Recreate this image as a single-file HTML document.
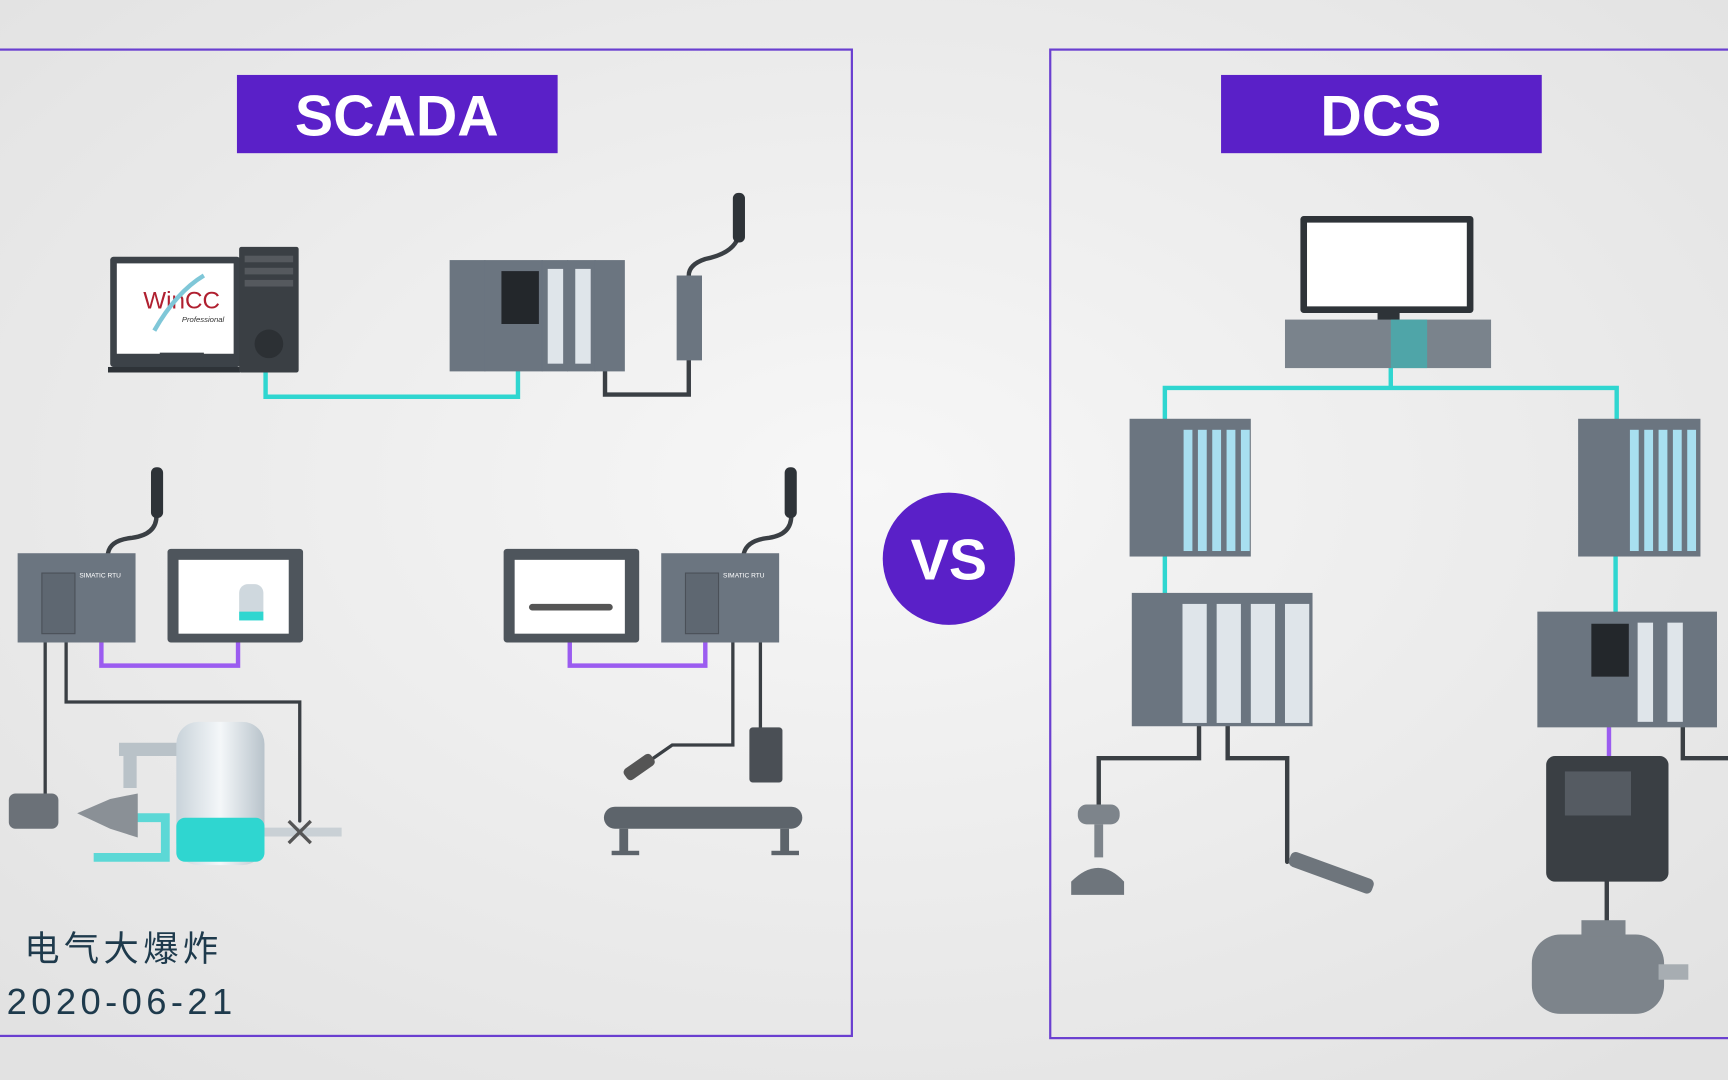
<!DOCTYPE html>
<html><head><meta charset="utf-8"><style>
html,body{margin:0;padding:0;width:1728px;height:1080px;overflow:hidden;background:#ececec}
svg{display:block}
</style></head><body>
<svg width="1728" height="1080" viewBox="0 0 1568 980" preserveAspectRatio="none" xmlns="http://www.w3.org/2000/svg">
<defs>
<radialGradient id="bg" cx="50%" cy="45%" r="70%"><stop offset="0" stop-color="#f7f7f7"/><stop offset="1" stop-color="#e2e2e2"/></radialGradient>
<linearGradient id="tank" x1="0" x2="1"><stop offset="0" stop-color="#c9d3da"/><stop offset=".5" stop-color="#f4f7f9"/><stop offset="1" stop-color="#b8c3cb"/></linearGradient>
</defs>
<rect width="1568" height="980" fill="url(#bg)"/>
<!-- panels -->
<rect x="-2" y="45" width="775" height="895" fill="none" stroke="#6a3fd0" stroke-width="2"/>
<rect x="953" y="45" width="620" height="897" fill="none" stroke="#6a3fd0" stroke-width="2"/>
<!-- banners -->
<rect x="215" y="68" width="291" height="71" fill="#5a20c8"/>
<text x="360" y="123" text-anchor="middle" font-family="Liberation Sans,sans-serif" font-weight="bold" font-size="52" fill="#fff">SCADA</text>
<rect x="1108" y="68" width="291" height="71" fill="#5a20c8"/>
<text x="1253" y="123" text-anchor="middle" font-family="Liberation Sans,sans-serif" font-weight="bold" font-size="52" fill="#fff">DCS</text>
<!-- VS -->
<circle cx="861" cy="507" r="60" fill="#5a20c8"/>
<text x="861" y="526" text-anchor="middle" font-family="Liberation Sans,sans-serif" font-weight="bold" font-size="52" fill="#fff">VS</text>

<!-- SCADA top: computer -->
<g stroke-linecap="round" fill="none" stroke-width="4">
<path d="M241 337 V360 H470 V337" stroke="#2fd6d0"/>
<path d="M549 337 V358 H625 V327" stroke="#3a3f44"/>
<path d="M625 250 Q625 240 640 235 Q665 230 670 215" stroke="#3a3f44"/>
<path d="M92 583 V604 H216 V583" stroke="#9b5cf0"/>
<path d="M517 583 V604 H640 V583" stroke="#9b5cf0"/>
<path d="M98 502 Q100 490 120 488 Q142 485 142 468" stroke="#3a3f44"/>
<path d="M675 502 Q678 490 698 488 Q718 485 718 468" stroke="#3a3f44"/>
<path d="M41 583 V720" stroke="#3a3f44" stroke-width="3"/>
<path d="M60 583 V637 H272 V745" stroke="#3a3f44" stroke-width="3"/>
<path d="M665 583 V676 H610 L590 690" stroke="#3a3f44" stroke-width="3"/>
<path d="M690 583 V662" stroke="#3a3f44" stroke-width="3"/>
<!-- DCS lines -->
<path d="M1262 334 V352 H1057 V380 M1262 352 H1467 V380" stroke="#2fd6d0"/>
<path d="M1057 505 V540 M1466 505 V555" stroke="#2fd6d0"/>
<path d="M1088 659 V688 H997 V730" stroke="#3a3f44"/>
<path d="M1114 659 V688 H1168 V782" stroke="#3a3f44"/>
<path d="M1460 660 V686" stroke="#9b5cf0"/>
<path d="M1527 660 V688 H1570" stroke="#3a3f44"/>
<path d="M1458 800 V835" stroke="#3a3f44"/>
</g>
<!-- computer -->
<rect x="100" y="233" width="118" height="100" rx="3" fill="#3c4248"/>
<rect x="106" y="239" width="106" height="82" fill="#fff"/>
<text x="130" y="280" font-family="Liberation Sans,sans-serif" font-size="22" fill="#b02030">WinCC</text>
<text x="165" y="292" font-family="Liberation Sans,sans-serif" font-size="7" font-style="italic" fill="#333">Professional</text>
<path d="M140 300 Q160 265 185 250" stroke="#7fc7d8" stroke-width="4" fill="none"/>
<rect x="145" y="320" width="40" height="14" fill="#3c4248"/>
<rect x="98" y="333" width="120" height="5" fill="#2e3338"/>
<rect x="217" y="224" width="54" height="114" rx="2" fill="#3a3f44"/>
<circle cx="244" cy="312" r="13" fill="#2c3034"/>
<g fill="#55595e"><rect x="222" y="232" width="44" height="6"/><rect x="222" y="243" width="44" height="6"/><rect x="222" y="254" width="44" height="6"/></g>
<!-- PLC -->
<rect x="408" y="236" width="159" height="101" fill="#6b7580"/>
<rect x="455" y="246" width="34" height="48" fill="#23272b"/>
<g fill="#dfe5ea"><rect x="497" y="244" width="14" height="86"/><rect x="522" y="244" width="14" height="86"/></g>
<g stroke="#6b7580" stroke-width="1"><path d="M440 236V337 M492 236V337 M515 236V337 M540 236V337"/></g>
<rect x="614" y="250" width="23" height="77" fill="#6b7580"/>
<rect x="665" y="175" width="11" height="45" rx="5" fill="#2e3338"/>
<!-- RTUs -->
<rect x="16" y="502" width="107" height="81" fill="#6b7580"/>
<rect x="38" y="520" width="30" height="55" fill="#5e6771" stroke="#4a5058"/>
<text x="72" y="524" font-family="Liberation Sans,sans-serif" font-size="6" fill="#fff">SIMATIC RTU</text>
<rect x="600" y="502" width="107" height="81" fill="#6b7580"/>
<rect x="622" y="520" width="30" height="55" fill="#5e6771" stroke="#4a5058"/>
<text x="656" y="524" font-family="Liberation Sans,sans-serif" font-size="6" fill="#fff">SIMATIC RTU</text>
<rect x="137" y="424" width="11" height="46" rx="5" fill="#2e3338"/>
<rect x="712" y="424" width="11" height="46" rx="5" fill="#2e3338"/>
<!-- HMIs -->
<rect x="152" y="498" width="123" height="85" rx="3" fill="#4e555c"/>
<rect x="162" y="508" width="100" height="67" fill="#fff"/>
<rect x="457" y="498" width="123" height="85" rx="3" fill="#4e555c"/>
<rect x="467" y="508" width="100" height="67" fill="#fff"/>
<rect x="480" y="548" width="76" height="6" rx="3" fill="#555"/>
<rect x="217" y="530" width="22" height="32" rx="8" fill="#cfd8de"/>
<rect x="217" y="555" width="22" height="8" fill="#2fd6d0"/>
<!-- tank and pump -->
<path d="M108 680 H165 M118 680 V715" stroke="#b9c2c8" stroke-width="12" fill="none"/>
<rect x="160" y="655" width="80" height="130" rx="20" fill="url(#tank)"/>
<rect x="160" y="742" width="80" height="40" rx="8" fill="#2fd6d0"/>
<path d="M120 742 H150 V778 H85" stroke="#5cd8d6" stroke-width="8" fill="none"/>
<rect x="8" y="720" width="45" height="32" rx="6" fill="#6b7178"/>
<path d="M70 738 L100 725 L125 720 L125 760 L100 752 Z" fill="#8a9096"/>
<path d="M240 755 H310" stroke="#c9d0d5" stroke-width="8"/>
<path d="M262 745 L282 765 M262 765 L282 745" stroke="#555" stroke-width="3"/>
<!-- sensors / conveyor -->
<rect x="565" y="690" width="30" height="12" rx="4" fill="#555" transform="rotate(-35 580 696)"/>
<rect x="680" y="660" width="30" height="50" rx="3" fill="#4a4f55"/>
<rect x="548" y="732" width="180" height="20" rx="10" fill="#5d646b"/>
<g fill="#5d646b"><rect x="562" y="752" width="8" height="22"/><rect x="708" y="752" width="8" height="22"/><rect x="555" y="772" width="25" height="4"/><rect x="700" y="772" width="25" height="4"/></g>
<!-- watermark text -->
<text x="22" y="872" font-family="Liberation Sans,'Noto Sans CJK SC',sans-serif" font-size="32" letter-spacing="4" fill="#1e3a4c">电气大爆炸</text>
<text x="6" y="920" font-family="Liberation Sans,sans-serif" font-size="33" letter-spacing="4" fill="#1e3a4c">2020-06-21</text>

<!-- DCS -->
<rect x="1180" y="196" width="157" height="88" rx="3" fill="#2e3338"/>
<rect x="1186" y="202" width="145" height="76" fill="#fff"/>
<rect x="1250" y="284" width="20" height="8" fill="#2e3338"/>
<rect x="1166" y="290" width="187" height="44" fill="#7a838c"/>
<rect x="1262" y="290" width="33" height="44" fill="#4fa5a8"/>
<rect x="1025" y="380" width="110" height="125" fill="#6b7580"/>
<g fill="#a8dff0"><rect x="1074" y="390" width="8" height="110"/><rect x="1087" y="390" width="8" height="110"/><rect x="1100" y="390" width="8" height="110"/><rect x="1113" y="390" width="8" height="110"/><rect x="1126" y="390" width="8" height="110"/></g>
<rect x="1432" y="380" width="111" height="125" fill="#6b7580"/>
<g fill="#a8dff0"><rect x="1479" y="390" width="8" height="110"/><rect x="1492" y="390" width="8" height="110"/><rect x="1505" y="390" width="8" height="110"/><rect x="1518" y="390" width="8" height="110"/><rect x="1531" y="390" width="8" height="110"/></g>
<rect x="1027" y="538" width="164" height="121" fill="#6b7580"/>
<g fill="#dfe5ea"><rect x="1073" y="548" width="22" height="108"/><rect x="1104" y="548" width="22" height="108"/><rect x="1135" y="548" width="22" height="108"/><rect x="1166" y="548" width="22" height="108"/></g>
<rect x="1395" y="555" width="163" height="105" fill="#6b7580"/>
<rect x="1444" y="566" width="34" height="48" fill="#23272b"/>
<g fill="#dfe5ea"><rect x="1486" y="565" width="14" height="90"/><rect x="1513" y="565" width="14" height="90"/></g>
<!-- valve -->
<rect x="978" y="730" width="38" height="18" rx="8" fill="#7d848b"/>
<rect x="993" y="748" width="8" height="30" fill="#7d848b"/>
<path d="M972 800 Q997 775 1020 800 L1020 812 L972 812 Z" fill="#6e757c"/>
<rect x="1168" y="785" width="80" height="14" rx="5" fill="#6e757c" transform="rotate(20 1208 792)"/>
<!-- drive & motor -->
<rect x="1403" y="686" width="111" height="114" rx="8" fill="#3a3f44"/>
<rect x="1420" y="700" width="60" height="40" fill="#555b62"/>
<rect x="1390" y="848" width="120" height="72" rx="26" fill="#7d848b"/>
<rect x="1435" y="835" width="40" height="15" fill="#7d848b"/>
<rect x="1505" y="875" width="27" height="14" fill="#a7adb2"/>
</svg>
</body></html>
